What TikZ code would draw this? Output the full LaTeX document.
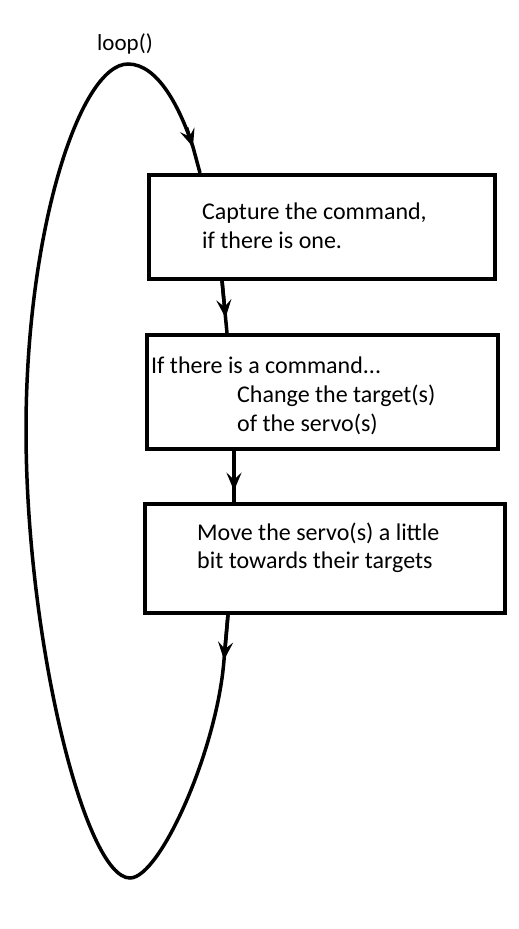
\documentclass[tikz,border=0pt]{standalone}
\usepackage{fontspec}
\setmainfont{Carlito}
\usetikzlibrary{arrows.meta,calc}
\begin{document}
\begin{tikzpicture}[x=1pt,y=-1pt,
  line/.style={draw=black, line width=3.5pt},
  arr/.style={line, -{Stealth[length=18pt,width=15pt,inset=7pt]}},
  box/.style={draw=black, line width=3.5pt, inner sep=0pt, anchor=north west},
  txt/.style={font=\fontsize{24}{29}\selectfont, anchor=base west, inner sep=0pt}]
\useasboundingbox (0,0) rectangle (519,929);
% boxes
\node[box, minimum width=346pt, minimum height=104pt] (b1) at (147,173) {};
\node[box, minimum width=351pt, minimum height=114pt] (b2) at (145,333) {};
\node[box, minimum width=360pt, minimum height=109pt] (b3) at (143,502) {};
% texts
\node[txt, font=\fontsize{23}{28}\selectfont] (lp) at (97,50) {loop()};
\node[txt] (t1a) at (202,219) {Capture the command,};
\node[txt] (t1b) at (202,248) {if there is one.};
\node[txt] (t2a) at (151,373) {If there is a command...};
\node[txt] (t2b) at (237,402) {Change the target(s)};
\node[txt] (t2c) at (237,431) {of the servo(s)};
\node[txt] (t3a) at (197,540) {Move the servo(s) a little};
\node[txt] (t3b) at (197,568) {bit towards their targets};
% connector 1 -> 2
\coordinate (p1) at ($(b1.south west)+(75,0)$);
\coordinate (p2) at ($(b2.north west)+(82,0)$);
\coordinate (m1) at ($(p1)!0.71!(p2)$);
\draw[line] (p1) -- (p2);
\draw[arr] (p1) -- (m1);
% connector 2 -> 3
\coordinate (p3) at ($(b2.south west)+(89,0)$);
\coordinate (p4) at ($(b3.north west)+(91,0)$);
\coordinate (m2) at ($(p3)!0.78!(p4)$);
\draw[line] (p3) -- (p4);
\draw[arr] (p3) -- (m2);
% loop back
\coordinate (q0) at ($(b3.south west)+(85,0)$);
\coordinate (qt) at (224,660);
\coordinate (bot) at (130,878);
\coordinate (lft) at (26,430);
\coordinate (top) at (128,64);
\coordinate (tt) at (193,147);
\coordinate (q1) at ($(b1.north west)+(53,0)$);
\draw[line] (q0) -- (qt) .. controls (217,750) and (160,878) .. (bot)
  .. controls (85,878) and (26,640) .. (lft)
  .. controls (26,230) and (80,64) .. (top)
  .. controls (158,64) and (180,108) .. (tt) -- (q1);
\draw[arr] (q0) -- (qt);
\draw[arr] ($(tt)!0.5!(180,108)$) -- (tt);
\end{tikzpicture}
\end{document}
